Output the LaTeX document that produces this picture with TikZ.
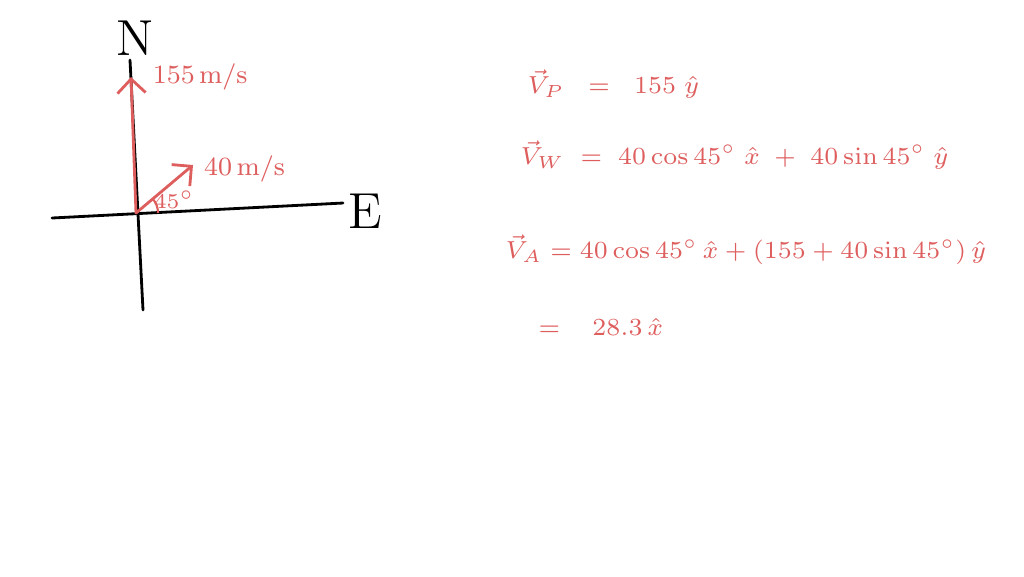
\documentclass[tikz,border=0pt]{standalone}
\usetikzlibrary{arrows.meta,positioning}

\definecolor{inkred}{RGB}{222,94,94}

\tikzset{
    axis/.style={line width=0.8pt, black, line cap=round},
    vec/.style={line width=0.8pt, inkred, line cap=round, -{Straight Barb[length=4pt,width=8pt]}},
    eqn/.style={inkred, anchor=west, inner sep=0pt, font=\fontsize{7}{9}\selectfont},
    lbl/.style={inkred, inner sep=1pt, font=\fontsize{7.5}{9}\selectfont},
}

\begin{document}
\begin{tikzpicture}[x=1cm, y=-1cm]
    \useasboundingbox (0,0) rectangle (10.24,5.76);

    %Achsen
    \coordinate (o) at (1.36,2.13);
    \coordinate (west) at (0.52,2.18);
    \coordinate (east) at (3.43,2.03);
    \coordinate (north) at (1.30,0.60);
    \coordinate (south) at (1.43,3.10);
    \draw[axis](west)--(east);
    \draw[axis](north)--(south);
    \node (N) at (1.35,0.38) {\Large N};
    \node (E) at (3.65,2.11) {\Large E};

    %Geschwindigkeiten
    \coordinate (vptip) at (1.31,0.77);
    \coordinate (vwtip) at (1.93,1.65);
    \draw[vec](o)--(vptip);
    \draw[vec](o)--(vwtip);
    \node[lbl, right=5pt of vptip] (vplbl) {155\,m/s};
    \node[lbl, right=2pt of vwtip, yshift=-1pt] (vwlbl) {40\,m/s};

    %Winkel
    \draw[inkred, line width=0.6pt](o) ++(0.22,0) arc[start angle=0, end angle=-40, radius=0.22];
    \node[lbl, font=\fontsize{6}{7}\selectfont] (ang) at (1.74,2.00) {$45^\circ$};

    %Gleichungen
    \node[eqn] (vp) at (5.27,0.84) {$\vec{V}_{P} \;\;=\;\; 155\;\hat{y}$};
    \node[eqn] (vw) at (5.20,1.55) {$\vec{V}_{W} \;=\; 40\cos 45^\circ\;\hat{x} \;+\; 40\sin 45^\circ\;\hat{y}$};
    \node[eqn] (va) at (5.05,2.50) {$\vec{V}_{A} = 40\cos 45^\circ\,\hat{x} + (155 + 40\sin 45^\circ)\,\hat{y}$};
    \node[eqn] (vr) at (5.38,3.27) {$= \;\;\; 28.3\,\hat{x}$};

\end{tikzpicture}
\end{document}
